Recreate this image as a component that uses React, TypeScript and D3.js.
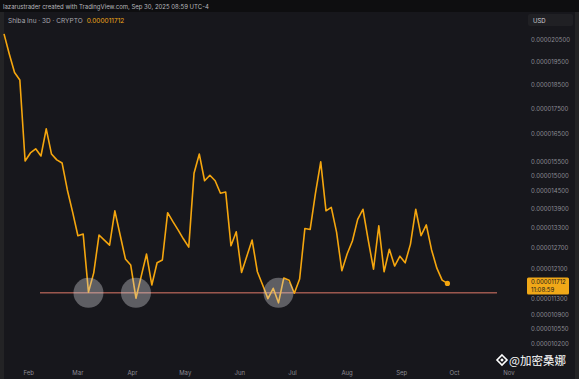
import React from "react";
import * as d3 from "d3";

const W = 579;
const H = 379;

// 3D closes (USD), first bar 2025-01-18, one every 3 days
const startDate = new Date(2025, 0, 18);
const closes: number[] = [
  0.00002079, 0.00001985, 0.00001902, 0.0000187, 0.00001552, 0.00001581, 0.00001596, 0.0000157,
  0.00001671, 0.00001577, 0.00001556, 0.00001545, 0.00001452, 0.0000138, 0.00001307, 0.00001312,
  0.00001148, 0.000012, 0.00001309, 0.00001294, 0.00001279, 0.00001384, 0.00001309, 0.00001239,
  0.00001222, 0.00001132, 0.00001191, 0.00001253, 0.00001167, 0.00001228, 0.00001236, 0.00001378,
  0.0000135, 0.00001324, 0.00001297, 0.00001273, 0.00001509, 0.00001577, 0.00001483, 0.00001502,
  0.00001483, 0.00001441, 0.00001445, 0.00001277, 0.00001319, 0.00001201, 0.00001247, 0.00001294,
  0.00001203, 0.00001167, 0.00001131, 0.00001158, 0.0000112, 0.00001186, 0.0000118, 0.00001145,
  0.00001183, 0.00001329, 0.00001326, 0.00001441, 0.00001549, 0.00001384, 0.00001395, 0.00001318,
  0.00001206, 0.00001253, 0.00001291, 0.00001357, 0.00001389, 0.00001294, 0.0000121, 0.00001337,
  0.00001203, 0.00001267, 0.00001219, 0.00001247, 0.00001228, 0.00001282, 0.00001389, 0.00001307,
  0.0000134, 0.00001265, 0.00001213, 0.0000118, 0.000011712,
];

const priceTicks: number[] = [
  0.0000205, 0.0000195, 0.0000185, 0.0000175, 0.0000165, 0.0000155, 0.000015, 0.0000145,
  0.0000139, 0.0000133, 0.0000127, 0.0000121, 0.0000113, 0.0000109, 0.00001055, 0.0000102,
];
const monthLabels: string[] = ["Feb", "Mar", "Apr", "May", "Jun", "Jul", "Aug", "Sep", "Oct", "Nov"];
const monthDates: Date[] = monthLabels.map((_, i) => new Date(2025, 1 + i, 1));
const supportLevel = 0.00001146;
const highlightIdx: number[] = [16, 25, 52];
const lastPrice = 0.000011712;
const countdown = "11:08:59";

export default function App() {
  const dates = closes.map((_, i) => d3.timeDay.offset(startDate, i * 3));
  const x = d3
    .scaleTime()
    .domain([startDate, new Date(2025, 10, 1)])
    .range([4, 509]);
  const y = d3.scaleLog().domain([0.0000205, 0.0000102]).range([40, 343.5]);

  const line = d3
    .line<number>()
    .x((_, i) => x(dates[i]))
    .y((d) => y(d));

  const fmt = (v: number) => v.toFixed(9);
  const lastX = x(dates[dates.length - 1]);
  const lastY = y(lastPrice);
  const font = "Inter, 'Noto Sans', sans-serif";

  return (
    <svg
      width={W}
      height={H}
      style={{ position: "absolute", left: 0, top: 0, display: "block" }}
      fontFamily={font}
    >
      <rect x={0} y={0} width={W} height={H} fill="#17171c" />
      <rect x={0} y={0} width={W} height={12} fill="#0e0e10" />
      <rect x={0} y={12} width={4} height={H - 12} fill="#232325" />
      <rect x={575} y={12} width={4} height={H - 12} fill="#232325" />
      <text x={3} y={8.5} fontSize={6} fill="#b8b8bc">
        lazarustrader created with TradingView.com, Sep 30, 2025 08:59 UTC-4
      </text>
      <text x={8} y={22.5} fontSize={6.5} fill="#a8a8ae">
        Shiba Inu · 3D · CRYPTO
        <tspan dx={4} fill="#f0a81a">{fmt(lastPrice)}</tspan>
      </text>

      <rect x={528} y={14} width={45} height={12} rx={2} fill="#202024" />
      <text x={533} y={22.5} fontSize={6} fill="#d0d0d4">
        USD
      </text>

      {priceTicks.map((t) => (
        <text key={t} x={531} y={y(t) + 2} fontSize={6} fill="#8c8c94">
          {fmt(t)}
        </text>
      ))}

      {monthLabels.map((m, i) => (
        <text
          key={m}
          x={x(monthDates[i])}
          y={374.5}
          fontSize={6}
          fill="#8c8c94"
          textAnchor="middle"
        >
          {m}
        </text>
      ))}

      <line
        x1={40}
        x2={497}
        y1={y(supportLevel)}
        y2={y(supportLevel)}
        stroke="#e07a6a"
        strokeWidth={1}
      />

      <path d={line(closes) || ""} fill="none" stroke="#f5a60e" strokeWidth={1.6} strokeLinejoin="round" />

      {highlightIdx.map((i) => (
        <circle
          key={i}
          cx={x(dates[i])}
          cy={y(supportLevel)}
          r={15}
          fill="rgba(210,210,215,0.38)"
        />
      ))}

      <circle cx={lastX} cy={lastY} r={2.6} fill="#f5a60e" />

      <rect x={527} y={y(lastPrice) - 6} width={42} height={17} rx={1.5} fill="#f0a818" />
      <text x={531} y={y(lastPrice) + 1} fontSize={6} fill="#1a1a1a">
        {fmt(lastPrice)}
      </text>
      <text x={531} y={y(lastPrice) + 8.5} fontSize={6} fill="#1a1a1a">
        {countdown}
      </text>

      <g transform="translate(502,360)">
        <path d="M0,-5 L5,0 L0,5 L-5,0 Z" fill="none" stroke="#ffffff" strokeWidth={1.6} />
        <rect x={-1.3} y={-1.3} width={2.6} height={2.6} fill="#ffffff" transform="rotate(45)" />
      </g>
      <text x={509} y={364.5} fontSize={11.5} fill="#ffffff" fontFamily="'Noto Sans CJK SC', 'Noto Sans', sans-serif">
        @加密桑娜
      </text>
    </svg>
  );
}
